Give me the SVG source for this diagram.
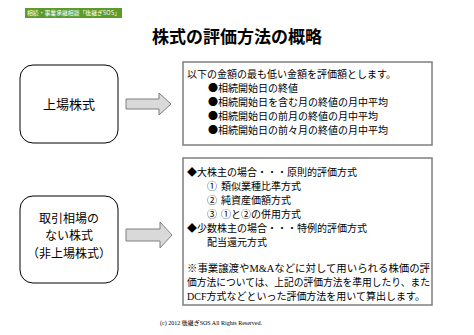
<svg xmlns="http://www.w3.org/2000/svg" width="474" height="335" viewBox="0 0 474 335">
<style>
.g{font-family:"Noto Sans CJK JP","Liberation Sans",sans-serif;fill:#000}
.s{font-family:"Liberation Serif","Noto Sans CJK JP",serif;fill:#000}
.lbox{fill:#fff;stroke:#000;stroke-width:1}
.rbox{fill:#fff;stroke:#7f7f7f;stroke-width:1.5}
.arr{fill:#d9d9d9;stroke:#7f7f7f;stroke-width:1}
.t10{font-size:10px}
</style>
<rect width="474" height="335" fill="#fff"/>
<g id="header">
<rect x="25" y="8" width="97" height="10" fill="#5b9b2a"/>
<text x="27" y="15.3" class="g" textLength="93" lengthAdjust="spacingAndGlyphs" style="font-size:6px;fill:#fff">相続・事業承継相談「後継ぎSOS」</text>
<text x="237" y="43" text-anchor="middle" class="g" style="font-size:17px;font-weight:bold">株式の評価方法の概略</text>
</g>
<g id="listed">
<rect class="lbox" x="20" y="65" width="98" height="78" rx="13"/>
<text x="69" y="109" text-anchor="middle" class="g" style="font-size:13px">上場株式</text>
</g>
<g id="listed-method">
<rect class="rbox" x="183" y="62" width="249" height="83"/>
<text class="g t10" x="187" y="78">以下の金額の最も低い金額を評価額とします。</text>
<text class="g t10" x="208" y="92">●相続開始日の終値</text>
<text class="g t10" x="208" y="106">●相続開始日を含む月の終値の月中平均</text>
<text class="g t10" x="208" y="120">●相続開始日の前月の終値の月中平均</text>
<text class="g t10" x="208" y="134">●相続開始日の前々月の終値の月中平均</text>
</g>
<g id="unlisted">
<rect class="lbox" x="20" y="196" width="98" height="87" rx="13"/>
<text x="69" y="222.5" text-anchor="middle" class="g" style="font-size:12px">取引相場の</text>
<text x="69" y="240" text-anchor="middle" class="g" style="font-size:12px">ない株式</text>
<text x="69" y="257.5" text-anchor="middle" class="g" style="font-size:12px">（非上場株式）</text>
</g>
<g id="unlisted-method">
<rect class="rbox" x="183" y="158" width="249" height="147"/>
<text class="g t10" x="187" y="176">◆大株主の場合・・・原則的評価方式</text>
<text class="g t10" x="207" y="190">①</text><text class="g t10" x="221" y="190">類似業種比準方式</text>
<text class="g t10" x="207" y="204">②</text><text class="g t10" x="221" y="204">純資産価額方式</text>
<text class="g t10" x="207" y="218">③</text><text class="g t10" x="221" y="218">①と②の併用方式</text>
<text class="g t10" x="187" y="232">◆少数株主の場合・・・特例的評価方式</text>
<text class="g t10" x="207" y="246">配当還元方式</text>
<text class="s t10" x="187" y="272" textLength="243" lengthAdjust="spacingAndGlyphs">※事業譲渡やM&amp;Aなどに対して用いられる株価の評</text>
<text class="s t10" x="187" y="286" textLength="243" lengthAdjust="spacingAndGlyphs">価方法については、上記の評価方法を準用したり、また</text>
<text class="s t10" x="187" y="300" textLength="238" lengthAdjust="spacingAndGlyphs">DCF方式などといった評価方法を用いて算出します。</text>
</g>
<g id="connectors">
<path class="arr" d="M126,99 H159 V93 L171,104 L159,115 V109 H126 Z"/>
<path class="arr" d="M126,229 H160 V222 L172,235 L160,248 V241 H126 Z"/>
</g>
<text class="s" x="160" y="325" style="font-size:6px">(c) 2012 後継ぎSOS All Rights Reserved.</text>
</svg>
